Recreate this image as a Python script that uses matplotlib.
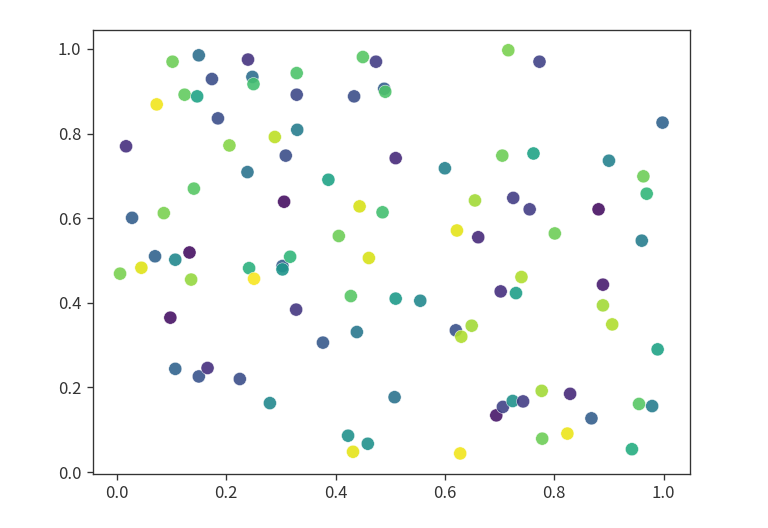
import matplotlib
matplotlib.use("Agg")
import matplotlib.pyplot as plt
import numpy as np

plt.rcParams['font.family'] = ['Noto Sans CJK JP', 'DejaVu Sans']
plt.rcParams['font.size'] = 10

# point positions (x, y) and colour value (0..1, viridis)
x = [0.102, 0.150, 0.240, 0.174, 0.248, 0.250, 0.124, 0.147, 0.073, 0.185,
     0.017, 0.206, 0.289, 0.309, 0.239, 0.141, 0.306, 0.028, 0.086,
     0.450, 0.474, 0.329, 0.329, 0.434, 0.489, 0.491, 0.330, 0.510, 0.600,
     0.387, 0.444, 0.486, 0.655, 0.406, 0.622, 0.661,
     0.716, 0.773, 0.998, 0.705, 0.762, 0.900, 0.963, 0.969, 0.725, 0.755,
     0.881, 0.801, 0.960,
     0.006, 0.045, 0.070, 0.107, 0.133, 0.136, 0.242, 0.251, 0.303, 0.303,
     0.317, 0.098, 0.107, 0.150, 0.166, 0.225, 0.280,
     0.461, 0.428, 0.510, 0.555, 0.328, 0.377, 0.439, 0.620, 0.649, 0.630,
     0.508, 0.423, 0.459, 0.432, 0.628,
     0.740, 0.702, 0.730, 0.889, 0.889, 0.906, 0.989, 0.777, 0.829, 0.694,
     0.706, 0.724, 0.743, 0.955, 0.979, 0.868, 0.778, 0.824, 0.942]
y = [0.970, 0.985, 0.975, 0.929, 0.934, 0.917, 0.892, 0.888, 0.869, 0.836,
     0.770, 0.772, 0.792, 0.748, 0.709, 0.670, 0.639, 0.601, 0.612,
     0.981, 0.970, 0.943, 0.892, 0.888, 0.906, 0.899, 0.809, 0.742, 0.718,
     0.691, 0.628, 0.614, 0.642, 0.558, 0.571, 0.555,
     0.997, 0.970, 0.826, 0.748, 0.753, 0.736, 0.699, 0.658, 0.648, 0.621,
     0.621, 0.564, 0.547,
     0.469, 0.483, 0.510, 0.502, 0.519, 0.455, 0.482, 0.457, 0.487, 0.479,
     0.509, 0.365, 0.244, 0.226, 0.246, 0.220, 0.163,
     0.506, 0.416, 0.410, 0.405, 0.384, 0.306, 0.331, 0.335, 0.346, 0.320,
     0.177, 0.086, 0.067, 0.048, 0.044,
     0.461, 0.427, 0.423, 0.443, 0.394, 0.349, 0.290, 0.192, 0.185, 0.134,
     0.154, 0.168, 0.167, 0.161, 0.156, 0.127, 0.079, 0.091, 0.054]
colors = [0.78, 0.36, 0.15, 0.24, 0.36, 0.70, 0.76, 0.58, 0.98, 0.24,
          0.14, 0.82, 0.90, 0.24, 0.38, 0.74, 0.04, 0.30, 0.80,
          0.74, 0.18, 0.72, 0.22, 0.24, 0.30, 0.72, 0.42, 0.12, 0.44,
          0.58, 0.94, 0.70, 0.86, 0.78, 0.96, 0.12,
          0.80, 0.20, 0.32, 0.78, 0.58, 0.44, 0.78, 0.66, 0.18, 0.18,
          0.04, 0.78, 0.42,
          0.80, 0.95, 0.32, 0.47, 0.04, 0.84, 0.64, 0.99, 0.30, 0.52,
          0.66, 0.05, 0.32, 0.26, 0.14, 0.24, 0.47,
          0.94, 0.74, 0.54, 0.47, 0.16, 0.28, 0.40, 0.25, 0.86, 0.88,
          0.38, 0.50, 0.50, 0.96, 0.98,
          0.88, 0.14, 0.56, 0.08, 0.86, 0.88, 0.58, 0.86, 0.12, 0.06,
          0.20, 0.50, 0.18, 0.74, 0.42, 0.30, 0.78, 0.97, 0.62]

fig = plt.figure(figsize=(6.4, 4.4), dpi=120)
ax = fig.add_axes([0.121, 0.103, 0.777, 0.840])
ax.scatter(x, y, c=colors, cmap='viridis', vmin=0, vmax=1, s=62,
           alpha=0.9, edgecolors='white', linewidths=0.3)
ax.set_xticks(np.arange(0, 1.01, 0.2))
ax.set_yticks(np.arange(0, 1.01, 0.2))
for sp in ax.spines.values():
    sp.set_color('#333333')
ax.tick_params(colors='#333333')
fig.savefig('out.png', dpi=120)
